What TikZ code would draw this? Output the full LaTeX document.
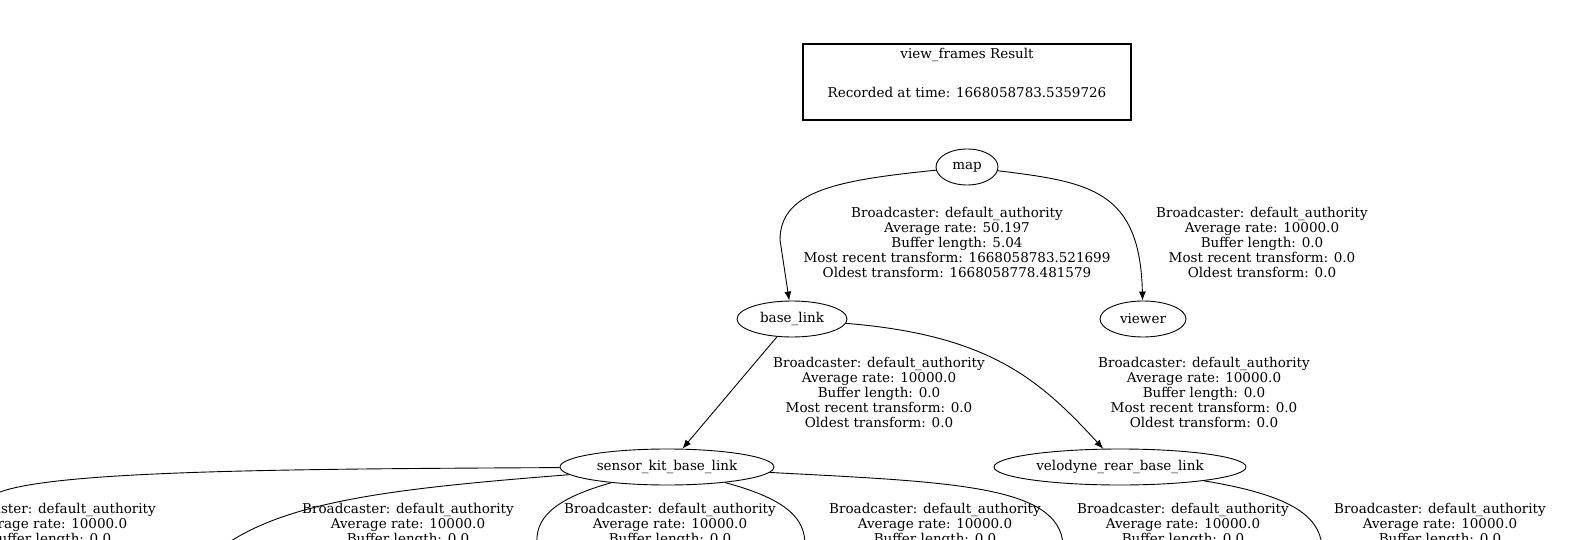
\documentclass[tikz,border=0pt]{standalone}
\usepackage{fontspec}
\setmainfont{DejaVu Serif}
\usetikzlibrary{arrows.meta,shapes.geometric}
\begin{document}
\begin{tikzpicture}[x=1pt,y=-1pt,line width=0.9pt,
  every node/.style={font=\fontsize{13.5}{15}\selectfont},
  frame/.style={ellipse,draw,inner sep=0pt,minimum height=36pt},
  lbl/.style={align=center,inner sep=0pt},
  edge/.style={draw,-{Latex[length=9pt,width=7pt]}},
  tail/.style={draw}]
\useasboundingbox (0,0) rectangle (1573,540);
\clip (0,0) rectangle (1573,540);
\node[draw,line width=1.6pt,minimum width=328pt,minimum height=76pt] (title) at (967,82) {};
\node[lbl] (t1l) at (967,55) {view\_frames Result};
\node[lbl] (t2l) at (967,92) {Recorded at time: 1668058783.5359726};
\node[frame,minimum width=62pt] (map) at (967,167) {map};
\node[frame,minimum width=110pt] (base) at (792,319) {base\_link};
\node[frame,minimum width=86pt] (viewer) at (1143,319) {viewer};
\node[frame,minimum width=214pt] (skb) at (667,467) {sensor\_kit\_base\_link};
\node[frame,minimum width=252pt] (vrb) at (1120,467) {velodyne\_rear\_base\_link};

\node[lbl] (l1) at (957,242) {Broadcaster: default\_authority\\Average rate: 50.197\\Buffer length: 5.04\\Most recent transform: 1668058783.521699\\Oldest transform: 1668058778.481579};
\node[lbl] (l2) at (1262,242) {Broadcaster: default\_authority\\Average rate: 10000.0\\Buffer length: 0.0\\Most recent transform: 0.0\\Oldest transform: 0.0};
\node[lbl] (l3) at (879,392) {Broadcaster: default\_authority\\Average rate: 10000.0\\Buffer length: 0.0\\Most recent transform: 0.0\\Oldest transform: 0.0};
\node[lbl] (l4) at (1204,392) {Broadcaster: default\_authority\\Average rate: 10000.0\\Buffer length: 0.0\\Most recent transform: 0.0\\Oldest transform: 0.0};
\foreach \i/\x in {a/50,b/408,c/670,d/935,e/1183,f/1440}{
  \node[lbl,anchor=north] (b\i) at (\x,503) {Broadcaster: default\_authority\\Average rate: 10000.0\\Buffer length: 0.0\\Most recent transform: 0.0\\Oldest transform: 0.0};
}

\coordinate (t1) at (0,492);
\coordinate (t2) at (225,545);
\coordinate (t3) at (537,545);
\coordinate (t4) at (805,545);
\coordinate (t5) at (1063,545);
\coordinate (t6) at (1322,545);

\path[edge] (map) .. controls (840,180) and (780,190) .. (780,240) -- (base);
\path[edge] (map) .. controls (1090,182) and (1140,190) .. (viewer);
\path[edge] (base) -- (skb);
\path[edge] (base) .. controls (990,335) and (1040,380) .. (vrb);
\path[tail] (skb) .. controls (300,469) and (60,470) .. (t1);
\path[tail] (skb) .. controls (400,488) and (290,500) .. (t2);
\path[tail] (skb) .. controls (550,500) and (535,520) .. (t3);
\path[tail] (skb) .. controls (790,500) and (805,520) .. (t4);
\path[tail] (skb) .. controls (950,482) and (1060,485) .. (t5);
\path[tail] (vrb) .. controls (1290,495) and (1318,515) .. (t6);
\end{tikzpicture}
\end{document}
